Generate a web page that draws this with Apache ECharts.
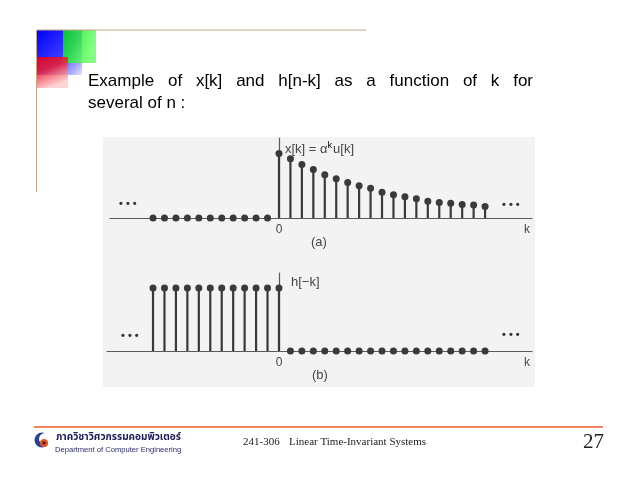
<!DOCTYPE html>
<html><head><meta charset="utf-8">
<script src="https://cdn.jsdelivr.net/npm/echarts@6/dist/echarts.min.js"></script>
<style>html,body{margin:0;padding:0;background:#fff}#c{width:638px;height:478px}</style>
</head><body><div id="c"></div>
<script>
// ---- data ----
const kValues = [-11,-10,-9,-8,-7,-6,-5,-4,-3,-2,-1,0,1,2,3,4,5,6,7,8,9,10,11,12,13,14,15,16,17,18];
const xk = [0,0,0,0,0,0,0,0,0,0,0,
  1.00,0.92,0.83,0.75,0.67,0.61,0.55,0.50,0.46,0.40,0.36,0.33,0.30,0.26,0.24,0.23,0.21,0.20,0.18];
const hNegK = [1,1,1,1,1,1,1,1,1,1,1,1,
  0,0,0,0,0,0,0,0,0,0,0,0,0,0,0,0,0,0];
const xTickLabels = ['0','k'];
const xTickValues = [0, 21.66];
const titleWords1 = ['Example','of','x[k]','and','h[n-k]','as','a','function','of','k','for'];
const titleLine2 = 'several of n :';

const STEM = '#3a3a3a', AXIS = '#5a5a5a', TXT = '#454545';
const FONT = '"Liberation Sans", Arial, Helvetica, sans-serif';

// justify line 1
const cv = document.createElement('canvas').getContext('2d');
cv.font = '17px "Liberation Sans"';
const ws = titleWords1.map(w => cv.measureText(w).width);
const L = 88, R = 533;
const gap = (R - L - ws.reduce((a,b)=>a+b,0)) / (titleWords1.length - 1);
let cx = L;
const titleEls = titleWords1.map((w,i) => {
  const el = {type:'text', left: cx, top: 73, style:{text:w, font:'17px ' + FONT, fill:'#000'}};
  cx += ws[i] + gap;
  return el;
});

function xAxisCfg(gi, min) {
  return {
    gridIndex: gi, type:'value', min: min, max: 22.10,
    axisLine:{show:true, onZero:true, lineStyle:{color:AXIS, width:1.2}},
    axisTick:{show:false}, splitLine:{show:false},
    axisLabel:{show:true, customValues: xTickValues, color:TXT, fontSize:12, fontFamily:FONT, margin:6,
      formatter: v => xTickLabels[xTickValues.indexOf(v)] ?? ''}
  };
}
function yAxisCfg(gi, max) {
  return {
    gridIndex: gi, type:'value', min:0, max:max,
    axisLine:{show:true, onZero:true, lineStyle:{color:AXIS, width:1.2}},
    axisTick:{show:false}, splitLine:{show:false}, axisLabel:{show:false}
  };
}
function stems(idx, vals) {
  const d = kValues.map((k,i) => [k, vals[i]]);
  return [
    {type:'bar', xAxisIndex:idx, yAxisIndex:idx, data:d, barWidth:2.2, itemStyle:{color:STEM}, silent:true, animation:false},
    {type:'scatter', xAxisIndex:idx, yAxisIndex:idx, data:d, symbol:'circle', symbolSize:7, itemStyle:{color:STEM, opacity:1}, silent:true, animation:false, z:3}
  ];
}

const dots = (x, y) => ({type:'text', left:x, top:y, style:{text:'• • •', font:'bold 11px ' + FONT, fill:'#333'}});

const chart = echarts.init(document.getElementById('c'), null, {renderer:'canvas'});
chart.setOption({
  animation:false,
  backgroundColor:'#ffffff',
  grid:[
    {left:110, top:138, width:422, height:80},
    {left:107, top:273, width:425, height:78}
  ],
  xAxis:[xAxisCfg(0, -14.76), xAxisCfg(1, -15.02)],
  yAxis:[yAxisCfg(0, 1.24), yAxisCfg(1, 1.238)],
  series:[...stems(0, xk), ...stems(1, hNegK)],
  graphic:[
    // scanned picture background
    {type:'rect', shape:{x:103, y:137, width:432, height:250}, style:{fill:'#f3f3f3'}, z:-10},
    // slide decoration
    {type:'rect', shape:{x:37, y:30, width:45, height:45}, style:{fill:new echarts.graphic.LinearGradient(0,0,1,1,[{offset:0,color:'#0000ff'},{offset:0.55,color:'#3a3aff'},{offset:1,color:'#e4e4ff'}])}},
    {type:'rect', shape:{x:63, y:30, width:33, height:33}, style:{fill:new echarts.graphic.LinearGradient(0,0,1,0.3,[{offset:0,color:'rgba(0,225,20,0.85)'},{offset:1,color:'rgba(110,255,110,0.85)'}])}},
    {type:'rect', shape:{x:37, y:57, width:31, height:31}, style:{fill:new echarts.graphic.LinearGradient(0,0,0.4,1,[{offset:0,color:'rgba(230,0,25,0.9)'},{offset:0.45,color:'rgba(240,30,50,0.85)'},{offset:1,color:'rgba(255,205,205,0.85)'}])}},
    {type:'line', shape:{x1:37, y1:30, x2:366, y2:30}, style:{stroke:'#c9a583', lineWidth:1}},
    {type:'line', shape:{x1:36.5, y1:30, x2:36.5, y2:192}, style:{stroke:'#c9a583', lineWidth:1}},
    // title
    ...titleEls,
    {type:'text', left:88, top:95, style:{text:titleLine2, font:'17px ' + FONT, fill:'#000'}},
    // chart annotations
    {type:'text', left:285, top:141, style:{
      text:'{n|x[k] = α}{s|k}{n|u[k]}',
      rich:{n:{fontSize:13, fontFamily:FONT, fill:TXT, color:TXT}, s:{fontSize:9, fontFamily:FONT, color:TXT, padding:[0,1,7,0]}}
    }},
    {type:'text', left:291, top:276, style:{text:'h[−k]', font:'13px ' + FONT, fill:TXT}},
    {type:'text', left:311, top:236, style:{text:'(a)', font:'13px ' + FONT, fill:TXT}},
    {type:'text', left:312, top:369, style:{text:'(b)', font:'13px ' + FONT, fill:TXT}},
    dots(119, 198), dots(502, 199), dots(121, 330), dots(502, 329),
    // footer
    {type:'line', shape:{x1:34, y1:427, x2:603, y2:427}, style:{stroke:'#f4845f', lineWidth:2}},
    {type:'circle', shape:{cx:42, cy:440, r:7.5}, style:{fill:'#2a3f9a'}},
    {type:'circle', shape:{cx:45, cy:439, r:6}, style:{fill:'#ffffff'}},
    {type:'circle', shape:{cx:44, cy:443, r:4}, style:{fill:'#e05a2a'}},
    {type:'circle', shape:{cx:44, cy:443, r:1.8}, style:{fill:'#7a1a10'}},
    {type:'text', left:56, top:433, style:{text:'ภาควิชาวิศวกรรมคอมพิวเตอร์', font:'bold 10px "Noto Sans Thai", "Noto Sans", "DejaVu Sans", sans-serif', fill:'#1c1c5a'}},
    {type:'text', left:55, top:446, style:{text:'Department of Computer Engineering', font:'7.6px ' + FONT, fill:'#2a2a6a'}},
    {type:'text', left:243, top:437, style:{text:'241-306', font:'11px "Liberation Serif", "Times New Roman", serif', fill:'#222'}},
    {type:'text', left:289, top:437, style:{text:'Linear Time-Invariant Systems', font:'11px "Liberation Serif", "Times New Roman", serif', fill:'#222'}},
    {type:'text', left:583, top:432, style:{text:'27', font:'21px "Liberation Serif", "Times New Roman", serif', fill:'#222'}}
  ]
});
</script></body></html>
